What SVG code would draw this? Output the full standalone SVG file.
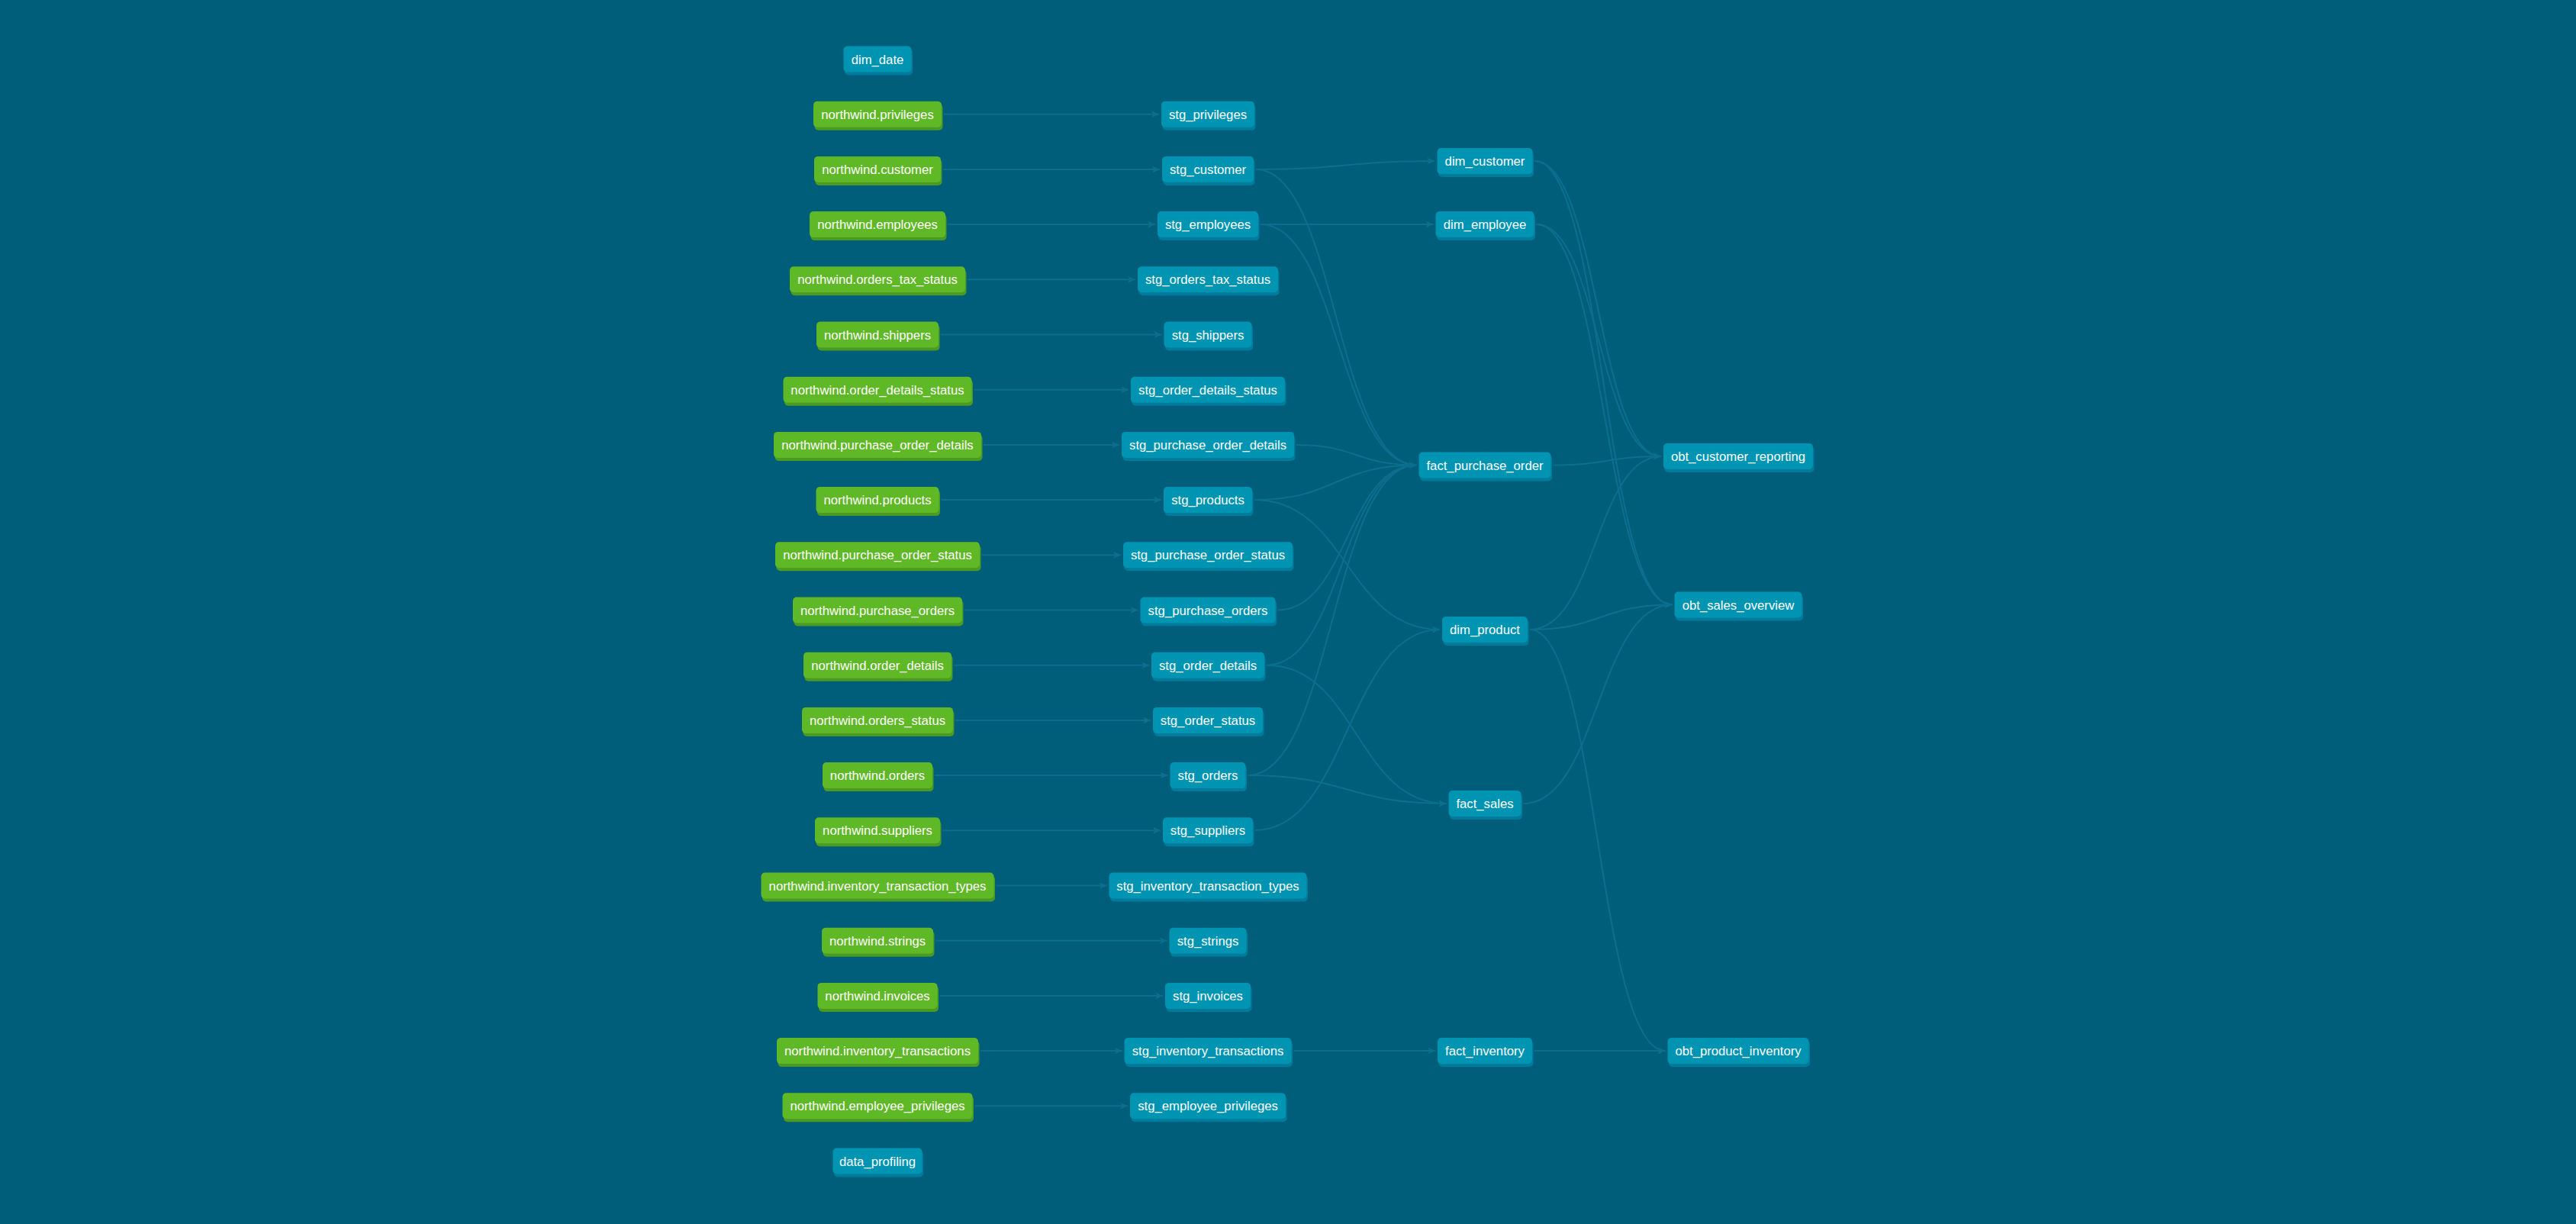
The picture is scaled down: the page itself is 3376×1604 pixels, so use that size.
<svg xmlns="http://www.w3.org/2000/svg" width="3376" height="1604" viewBox="0 0 3376 1604">
<style>
.bg{fill:#005e7b}
.edge{fill:none;stroke:#0b6f8d;stroke-width:2}
.src .body{fill:#5fb826}
.src .sh{fill:#4b9a22}
.mdl .body{fill:#0094b3}
.mdl .sh{fill:#007b9b}
.lbl{font-family:"Liberation Sans",Arial,Helvetica,sans-serif;font-size:16.7px;fill:#ffffff;text-anchor:middle}
</style>
<defs>
<marker id="arr" viewBox="0 0 10 10" refX="10" refY="5" markerWidth="10" markerHeight="10" markerUnits="userSpaceOnUse" orient="auto">
<path d="M0,0.5 L10,5 L0,9.5 L2.5,5 Z" fill="#0b6f8d"/>
</marker>
</defs>
<rect class="bg" x="0" y="0" width="3376" height="1604"/>

<g id="connectors">
<path class="edge" marker-end="url(#arr)" d="M1237,149.7 L1519,149.7"/>
<path class="edge" marker-end="url(#arr)" d="M1236,221.9 L1520,221.9"/>
<path class="edge" marker-end="url(#arr)" d="M1242,294.1 L1514,294.1"/>
<path class="edge" marker-end="url(#arr)" d="M1268,366.3 L1488,366.3"/>
<path class="edge" marker-end="url(#arr)" d="M1233,438.5 L1522.5,438.5"/>
<path class="edge" marker-end="url(#arr)" d="M1276.5,510.7 L1479,510.7"/>
<path class="edge" marker-end="url(#arr)" d="M1289,582.9 L1467,582.9"/>
<path class="edge" marker-end="url(#arr)" d="M1233.5,655.1 L1522,655.1"/>
<path class="edge" marker-end="url(#arr)" d="M1287,727.3 L1469,727.3"/>
<path class="edge" marker-end="url(#arr)" d="M1264,799.5 L1491.5,799.5"/>
<path class="edge" marker-end="url(#arr)" d="M1250,871.7 L1506,871.7"/>
<path class="edge" marker-end="url(#arr)" d="M1252,943.9 L1508,943.9"/>
<path class="edge" marker-end="url(#arr)" d="M1225,1016.1 L1530.5,1016.1"/>
<path class="edge" marker-end="url(#arr)" d="M1235,1088.3 L1521,1088.3"/>
<path class="edge" marker-end="url(#arr)" d="M1305.5,1160.5 L1450.5,1160.5"/>
<path class="edge" marker-end="url(#arr)" d="M1226,1232.7 L1529.5,1232.7"/>
<path class="edge" marker-end="url(#arr)" d="M1231.5,1304.9 L1524,1304.9"/>
<path class="edge" marker-end="url(#arr)" d="M1285,1377.1 L1470.5,1377.1"/>
<path class="edge" marker-end="url(#arr)" d="M1277.5,1449.3 L1478,1449.3"/>

<path class="edge" marker-end="url(#arr)" d="M1646,222 C1763.25,222 1763.25,211 1880.5,211"/>
<path class="edge" marker-end="url(#arr)" d="M1646,222 C1751.25,222 1751.25,609.5 1856.5,609.5"/>
<path class="edge" marker-end="url(#arr)" d="M1652,294 L1878.5,294"/>
<path class="edge" marker-end="url(#arr)" d="M1652,294 C1754.25,294 1754.25,609.5 1856.5,609.5"/>
<path class="edge" marker-end="url(#arr)" d="M1699,583 C1777.75,583 1777.75,609.5 1856.5,609.5"/>
<path class="edge" marker-end="url(#arr)" d="M1644,655 C1750.25,655 1750.25,609.5 1856.5,609.5"/>
<path class="edge" marker-end="url(#arr)" d="M1644,655 C1765.5,655 1765.5,825 1887,825"/>
<path class="edge" marker-end="url(#arr)" d="M1674.5,799.5 C1765.5,799.5 1765.5,609.5 1856.5,609.5"/>
<path class="edge" marker-end="url(#arr)" d="M1660,871.7 C1758.25,871.7 1758.25,609.5 1856.5,609.5"/>
<path class="edge" marker-end="url(#arr)" d="M1660,871.7 C1777.75,871.7 1777.75,1053 1895.5,1053"/>
<path class="edge" marker-end="url(#arr)" d="M1635.5,1016 C1746,1016 1746,609.5 1856.5,609.5"/>
<path class="edge" marker-end="url(#arr)" d="M1635.5,1016 C1765.5,1016 1765.5,1053 1895.5,1053"/>
<path class="edge" marker-end="url(#arr)" d="M1645,1088 C1766,1088 1766,825 1887,825"/>
<path class="edge" marker-end="url(#arr)" d="M1695.5,1377 L1881,1377"/>

<path class="edge" marker-end="url(#arr)" d="M2011.5,211 C2094.25,211 2094.25,598 2177,598"/>
<path class="edge" marker-end="url(#arr)" d="M2011.5,211 C2101.5,211 2101.5,792.5 2191.5,792.5"/>
<path class="edge" marker-end="url(#arr)" d="M2013.5,294 C2095.25,294 2095.25,598 2177,598"/>
<path class="edge" marker-end="url(#arr)" d="M2013.5,294 C2102.5,294 2102.5,792.5 2191.5,792.5"/>
<path class="edge" marker-end="url(#arr)" d="M2035.5,609.5 C2106.25,609.5 2106.25,598 2177,598"/>
<path class="edge" marker-end="url(#arr)" d="M2005,825 C2091,825 2091,598 2177,598"/>
<path class="edge" marker-end="url(#arr)" d="M2005,825 C2098.25,825 2098.25,792.5 2191.5,792.5"/>
<path class="edge" marker-end="url(#arr)" d="M2005,825 C2093.75,825 2093.75,1377 2182.5,1377"/>
<path class="edge" marker-end="url(#arr)" d="M1996.5,1053 C2094,1053 2094,792.5 2191.5,792.5"/>
<path class="edge" marker-end="url(#arr)" d="M2011,1377 L2182.5,1377"/>
</g>

<!-- column 1 -->
<g id="dim_date" class="mdl" transform="translate(1150,77.5)"><rect class="sh" x="-43" y="-13" width="89" height="34" rx="5"/><rect class="body" x="-44.5" y="-17" width="89" height="34" rx="5"/><text class="lbl" y="6">dim_date</text></g>
<g id="northwind_privileges" class="src" transform="translate(1150,149.7)"><rect class="sh" x="-82.5" y="-13" width="168" height="34" rx="5"/><rect class="body" x="-84" y="-17" width="168" height="34" rx="5"/><text class="lbl" y="6">northwind.privileges</text></g>
<g id="northwind_customer" class="src" transform="translate(1150,221.9)"><rect class="sh" x="-81.5" y="-13" width="166" height="34" rx="5"/><rect class="body" x="-83" y="-17" width="166" height="34" rx="5"/><text class="lbl" y="6">northwind.customer</text></g>
<g id="northwind_employees" class="src" transform="translate(1150,294.1)"><rect class="sh" x="-87.5" y="-13" width="178" height="34" rx="5"/><rect class="body" x="-89" y="-17" width="178" height="34" rx="5"/><text class="lbl" y="6">northwind.employees</text></g>
<g id="northwind_orders_tax_status" class="src" transform="translate(1150,366.3)"><rect class="sh" x="-113.5" y="-13" width="230" height="34" rx="5"/><rect class="body" x="-115" y="-17" width="230" height="34" rx="5"/><text class="lbl" y="6">northwind.orders_tax_status</text></g>
<g id="northwind_shippers" class="src" transform="translate(1150,438.5)"><rect class="sh" x="-78.5" y="-13" width="160" height="34" rx="5"/><rect class="body" x="-80" y="-17" width="160" height="34" rx="5"/><text class="lbl" y="6">northwind.shippers</text></g>
<g id="northwind_order_details_status" class="src" transform="translate(1150,510.7)"><rect class="sh" x="-122" y="-13" width="247" height="34" rx="5"/><rect class="body" x="-123.5" y="-17" width="247" height="34" rx="5"/><text class="lbl" y="6">northwind.order_details_status</text></g>
<g id="northwind_purchase_order_details" class="src" transform="translate(1150,582.9)"><rect class="sh" x="-134.5" y="-13" width="272" height="34" rx="5"/><rect class="body" x="-136" y="-17" width="272" height="34" rx="5"/><text class="lbl" y="6">northwind.purchase_order_details</text></g>
<g id="northwind_products" class="src" transform="translate(1150,655.1)"><rect class="sh" x="-79" y="-13" width="161" height="34" rx="5"/><rect class="body" x="-80.5" y="-17" width="161" height="34" rx="5"/><text class="lbl" y="6">northwind.products</text></g>
<g id="northwind_purchase_order_status" class="src" transform="translate(1150,727.3)"><rect class="sh" x="-132.5" y="-13" width="268" height="34" rx="5"/><rect class="body" x="-134" y="-17" width="268" height="34" rx="5"/><text class="lbl" y="6">northwind.purchase_order_status</text></g>
<g id="northwind_purchase_orders" class="src" transform="translate(1150,799.5)"><rect class="sh" x="-109.5" y="-13" width="222" height="34" rx="5"/><rect class="body" x="-111" y="-17" width="222" height="34" rx="5"/><text class="lbl" y="6">northwind.purchase_orders</text></g>
<g id="northwind_order_details" class="src" transform="translate(1150,871.7)"><rect class="sh" x="-95.5" y="-13" width="194" height="34" rx="5"/><rect class="body" x="-97" y="-17" width="194" height="34" rx="5"/><text class="lbl" y="6">northwind.order_details</text></g>
<g id="northwind_orders_status" class="src" transform="translate(1150,943.9)"><rect class="sh" x="-97.5" y="-13" width="198" height="34" rx="5"/><rect class="body" x="-99" y="-17" width="198" height="34" rx="5"/><text class="lbl" y="6">northwind.orders_status</text></g>
<g id="northwind_orders" class="src" transform="translate(1150,1016.1)"><rect class="sh" x="-70.5" y="-13" width="144" height="34" rx="5"/><rect class="body" x="-72" y="-17" width="144" height="34" rx="5"/><text class="lbl" y="6">northwind.orders</text></g>
<g id="northwind_suppliers" class="src" transform="translate(1150,1088.3)"><rect class="sh" x="-80.5" y="-13" width="164" height="34" rx="5"/><rect class="body" x="-82" y="-17" width="164" height="34" rx="5"/><text class="lbl" y="6">northwind.suppliers</text></g>
<g id="northwind_inventory_transaction_types" class="src" transform="translate(1150,1160.5)"><rect class="sh" x="-151" y="-13" width="305" height="34" rx="5"/><rect class="body" x="-152.5" y="-17" width="305" height="34" rx="5"/><text class="lbl" y="6">northwind.inventory_transaction_types</text></g>
<g id="northwind_strings" class="src" transform="translate(1150,1232.7)"><rect class="sh" x="-71.5" y="-13" width="146" height="34" rx="5"/><rect class="body" x="-73" y="-17" width="146" height="34" rx="5"/><text class="lbl" y="6">northwind.strings</text></g>
<g id="northwind_invoices" class="src" transform="translate(1150,1304.9)"><rect class="sh" x="-77" y="-13" width="157" height="34" rx="5"/><rect class="body" x="-78.5" y="-17" width="157" height="34" rx="5"/><text class="lbl" y="6">northwind.invoices</text></g>
<g id="northwind_inventory_transactions" class="src" transform="translate(1150,1377.1)"><rect class="sh" x="-130.5" y="-13" width="264" height="34" rx="5"/><rect class="body" x="-132" y="-17" width="264" height="34" rx="5"/><text class="lbl" y="6">northwind.inventory_transactions</text></g>
<g id="northwind_employee_privileges" class="src" transform="translate(1150,1449.3)"><rect class="sh" x="-123" y="-13" width="249" height="34" rx="5"/><rect class="body" x="-124.5" y="-17" width="249" height="34" rx="5"/><text class="lbl" y="6">northwind.employee_privileges</text></g>
<g id="data_profiling" class="mdl" transform="translate(1150,1521.5)"><rect class="sh" x="-57" y="-13" width="117" height="34" rx="5"/><rect class="body" x="-58.5" y="-17" width="117" height="34" rx="5"/><text class="lbl" y="6">data_profiling</text></g>

<!-- column 2 -->
<g id="stg_privileges" class="mdl" transform="translate(1583,149.7)"><rect class="sh" x="-59.5" y="-13" width="122" height="34" rx="5"/><rect class="body" x="-61" y="-17" width="122" height="34" rx="5"/><text class="lbl" y="6">stg_privileges</text></g>
<g id="stg_customer" class="mdl" transform="translate(1583,221.9)"><rect class="sh" x="-58.5" y="-13" width="120" height="34" rx="5"/><rect class="body" x="-60" y="-17" width="120" height="34" rx="5"/><text class="lbl" y="6">stg_customer</text></g>
<g id="stg_employees" class="mdl" transform="translate(1583,294.1)"><rect class="sh" x="-64.5" y="-13" width="132" height="34" rx="5"/><rect class="body" x="-66" y="-17" width="132" height="34" rx="5"/><text class="lbl" y="6">stg_employees</text></g>
<g id="stg_orders_tax_status" class="mdl" transform="translate(1583,366.3)"><rect class="sh" x="-90.5" y="-13" width="184" height="34" rx="5"/><rect class="body" x="-92" y="-17" width="184" height="34" rx="5"/><text class="lbl" y="6">stg_orders_tax_status</text></g>
<g id="stg_shippers" class="mdl" transform="translate(1583,438.5)"><rect class="sh" x="-56" y="-13" width="115" height="34" rx="5"/><rect class="body" x="-57.5" y="-17" width="115" height="34" rx="5"/><text class="lbl" y="6">stg_shippers</text></g>
<g id="stg_order_details_status" class="mdl" transform="translate(1583,510.7)"><rect class="sh" x="-99.5" y="-13" width="202" height="34" rx="5"/><rect class="body" x="-101" y="-17" width="202" height="34" rx="5"/><text class="lbl" y="6">stg_order_details_status</text></g>
<g id="stg_purchase_order_details" class="mdl" transform="translate(1583,582.9)"><rect class="sh" x="-111.5" y="-13" width="226" height="34" rx="5"/><rect class="body" x="-113" y="-17" width="226" height="34" rx="5"/><text class="lbl" y="6">stg_purchase_order_details</text></g>
<g id="stg_products" class="mdl" transform="translate(1583,655.1)"><rect class="sh" x="-56.5" y="-13" width="116" height="34" rx="5"/><rect class="body" x="-58" y="-17" width="116" height="34" rx="5"/><text class="lbl" y="6">stg_products</text></g>
<g id="stg_purchase_order_status" class="mdl" transform="translate(1583,727.3)"><rect class="sh" x="-109.5" y="-13" width="222" height="34" rx="5"/><rect class="body" x="-111" y="-17" width="222" height="34" rx="5"/><text class="lbl" y="6">stg_purchase_order_status</text></g>
<g id="stg_purchase_orders" class="mdl" transform="translate(1583,799.5)"><rect class="sh" x="-87" y="-13" width="177" height="34" rx="5"/><rect class="body" x="-88.5" y="-17" width="177" height="34" rx="5"/><text class="lbl" y="6">stg_purchase_orders</text></g>
<g id="stg_order_details" class="mdl" transform="translate(1583,871.7)"><rect class="sh" x="-72.5" y="-13" width="148" height="34" rx="5"/><rect class="body" x="-74" y="-17" width="148" height="34" rx="5"/><text class="lbl" y="6">stg_order_details</text></g>
<g id="stg_order_status" class="mdl" transform="translate(1583,943.9)"><rect class="sh" x="-70.5" y="-13" width="144" height="34" rx="5"/><rect class="body" x="-72" y="-17" width="144" height="34" rx="5"/><text class="lbl" y="6">stg_order_status</text></g>
<g id="stg_orders" class="mdl" transform="translate(1583,1016.1)"><rect class="sh" x="-48" y="-13" width="99" height="34" rx="5"/><rect class="body" x="-49.5" y="-17" width="99" height="34" rx="5"/><text class="lbl" y="6">stg_orders</text></g>
<g id="stg_suppliers" class="mdl" transform="translate(1583,1088.3)"><rect class="sh" x="-57.5" y="-13" width="118" height="34" rx="5"/><rect class="body" x="-59" y="-17" width="118" height="34" rx="5"/><text class="lbl" y="6">stg_suppliers</text></g>
<g id="stg_inventory_transaction_types" class="mdl" transform="translate(1583,1160.5)"><rect class="sh" x="-128" y="-13" width="259" height="34" rx="5"/><rect class="body" x="-129.5" y="-17" width="259" height="34" rx="5"/><text class="lbl" y="6">stg_inventory_transaction_types</text></g>
<g id="stg_strings" class="mdl" transform="translate(1583,1232.7)"><rect class="sh" x="-49" y="-13" width="101" height="34" rx="5"/><rect class="body" x="-50.5" y="-17" width="101" height="34" rx="5"/><text class="lbl" y="6">stg_strings</text></g>
<g id="stg_invoices" class="mdl" transform="translate(1583,1304.9)"><rect class="sh" x="-54.5" y="-13" width="112" height="34" rx="5"/><rect class="body" x="-56" y="-17" width="112" height="34" rx="5"/><text class="lbl" y="6">stg_invoices</text></g>
<g id="stg_inventory_transactions" class="mdl" transform="translate(1583,1377.1)"><rect class="sh" x="-108" y="-13" width="219" height="34" rx="5"/><rect class="body" x="-109.5" y="-17" width="219" height="34" rx="5"/><text class="lbl" y="6">stg_inventory_transactions</text></g>
<g id="stg_employee_privileges" class="mdl" transform="translate(1583,1449.3)"><rect class="sh" x="-100.5" y="-13" width="204" height="34" rx="5"/><rect class="body" x="-102" y="-17" width="204" height="34" rx="5"/><text class="lbl" y="6">stg_employee_privileges</text></g>

<!-- column 3 -->
<g id="dim_customer" class="mdl" transform="translate(1946,211)"><rect class="sh" x="-61" y="-13" width="125" height="34" rx="5"/><rect class="body" x="-62.5" y="-17" width="125" height="34" rx="5"/><text class="lbl" y="6">dim_customer</text></g>
<g id="dim_employee" class="mdl" transform="translate(1946,294)"><rect class="sh" x="-63" y="-13" width="129" height="34" rx="5"/><rect class="body" x="-64.5" y="-17" width="129" height="34" rx="5"/><text class="lbl" y="6">dim_employee</text></g>
<g id="fact_purchase_order" class="mdl" transform="translate(1946,609.5)"><rect class="sh" x="-85" y="-13" width="173" height="34" rx="5"/><rect class="body" x="-86.5" y="-17" width="173" height="34" rx="5"/><text class="lbl" y="6">fact_purchase_order</text></g>
<g id="dim_product" class="mdl" transform="translate(1946,825)"><rect class="sh" x="-54.5" y="-13" width="112" height="34" rx="5"/><rect class="body" x="-56" y="-17" width="112" height="34" rx="5"/><text class="lbl" y="6">dim_product</text></g>
<g id="fact_sales" class="mdl" transform="translate(1946,1053)"><rect class="sh" x="-46" y="-13" width="95" height="34" rx="5"/><rect class="body" x="-47.5" y="-17" width="95" height="34" rx="5"/><text class="lbl" y="6">fact_sales</text></g>
<g id="fact_inventory" class="mdl" transform="translate(1946,1377)"><rect class="sh" x="-60.5" y="-13" width="124" height="34" rx="5"/><rect class="body" x="-62" y="-17" width="124" height="34" rx="5"/><text class="lbl" y="6">fact_inventory</text></g>

<!-- column 4 -->
<g id="obt_customer_reporting" class="mdl" transform="translate(2278,598)"><rect class="sh" x="-96.5" y="-13" width="196" height="34" rx="5"/><rect class="body" x="-98" y="-17" width="196" height="34" rx="5"/><text class="lbl" y="6">obt_customer_reporting</text></g>
<g id="obt_sales_overview" class="mdl" transform="translate(2278,792.5)"><rect class="sh" x="-82" y="-13" width="167" height="34" rx="5"/><rect class="body" x="-83.5" y="-17" width="167" height="34" rx="5"/><text class="lbl" y="6">obt_sales_overview</text></g>
<g id="obt_product_inventory" class="mdl" transform="translate(2278,1377)"><rect class="sh" x="-91" y="-13" width="185" height="34" rx="5"/><rect class="body" x="-92.5" y="-17" width="185" height="34" rx="5"/><text class="lbl" y="6">obt_product_inventory</text></g>
</svg>
